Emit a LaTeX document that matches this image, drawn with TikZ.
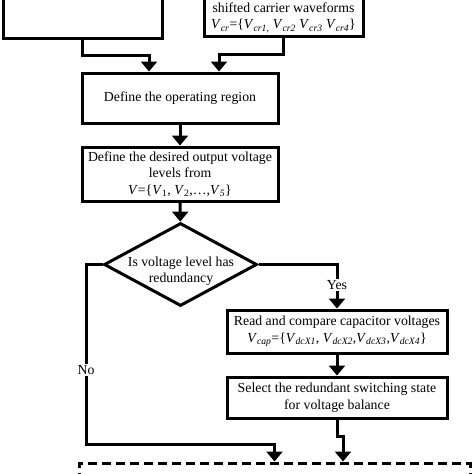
\documentclass[tikz,border=0pt]{standalone}
\usepackage{fontspec}
\setmainfont{Liberation Serif}
\usetikzlibrary{shapes.geometric,arrows.meta}
\newcommand{\vsub}[1]{\textit{V}\textsubscript{\textit{#1}}}
\begin{document}
\begin{tikzpicture}[x=1pt,y=-1pt,
  every node/.style={font=\fontsize{13.8}{16.5}\selectfont},
  boxst/.style={draw,line width=3pt,inner sep=0pt,align=center},
  arr/.style={line width=3pt,-{Triangle[width=16pt,length=10pt]}},
  lab/.style={fill=white,inner sep=1.5pt}]
\clip (0,0) rectangle (474,474);
\useasboundingbox (0,0) rectangle (474,474);
% top boxes (partly outside)
\node[boxst,minimum width=159pt,minimum height=80pt] (tl) at (82.5,-2) {};
\node[boxst,minimum width=159pt,minimum height=80pt,anchor=south] (tr) at (283.5,38) {};
\node at (283.5,8) {shifted carrier waveforms};
\node at (283.5,26) {\vsub{cr}=\{\vsub{cr1,} \vsub{cr2} \vsub{cr3} \vsub{cr4}\}};
% main flow
\node[boxst,minimum width=196pt,minimum height=50pt] (op) at (180,98) {Define the operating region};
\node[boxst,minimum width=196pt,minimum height=54pt] (lv) at (180,174)
  {Define the desired output voltage\\levels from\\\textit{V}=\{\textit{V}\textsubscript{1}, \textit{V}\textsubscript{2},\ldots,\vsub{5}\}};
\node[draw,line width=3pt,diamond,inner sep=0pt,minimum width=153pt,minimum height=83pt] (dia) at (180.5,264.5) {};
\node[align=center] (diatext) at (181,271) {Is voltage level has\\redundancy};
\node[boxst,minimum width=220pt,minimum height=43pt] (rd) at (337,331.5)
  {Read and compare capacitor voltages\\\vsub{cap}=\{\vsub{dcX1}, \vsub{dcX2},\vsub{dcX3},\vsub{dcX4}\}};
\node[boxst,minimum width=220pt,minimum height=41pt] (sel) at (337,397.5)
  {Select the redundant switching state\\for voltage balance};
\node[draw,dash pattern=on 9pt off 5pt,line width=3pt,inner sep=0pt,minimum width=391pt,minimum height=34pt] (db) at (274.5,480) {};
\coordinate (nc) at (86,444);
% connectors
\draw[arr] (tl.south) -- ++(0,16) -| ([xshift=-31pt]op.north);
\draw[arr] (tr.south) -- ++(0,16) -| ([xshift=39pt]op.north);
\draw[arr] (op) -- (lv);
\draw[arr] (lv) -- (dia);
\draw[arr] (dia.west) -| (nc) -| (db.north);
\draw[arr] (dia.east) -| (rd.north);
\draw[arr] (rd) -- (sel);
\draw[arr] (sel.south) -- ++(0,17) -| ([xshift=68.5pt]db.north);
\node[lab] (no) at (86,370) {No};
\node[lab] (yes) at (337,285) {Yes};
\end{tikzpicture}
\end{document}
